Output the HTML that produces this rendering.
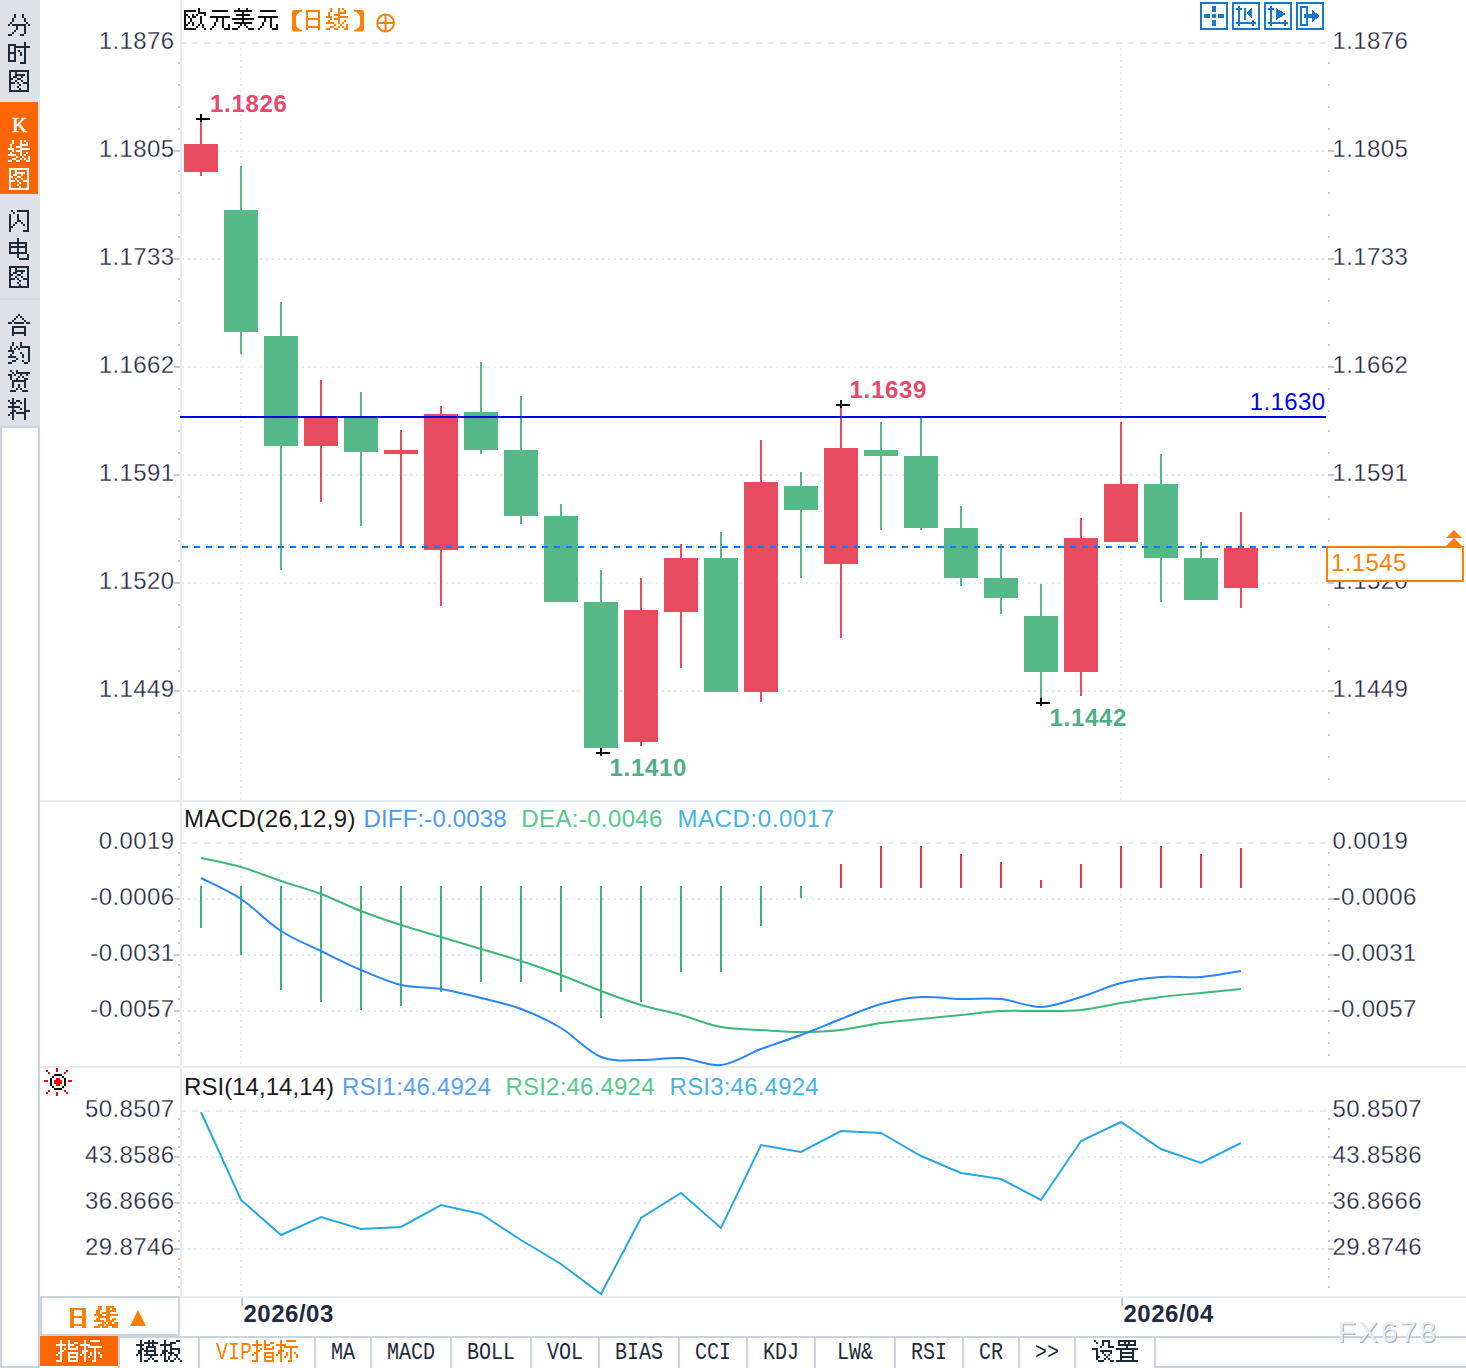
<!DOCTYPE html>
<html><head><meta charset="utf-8"><style>
html,body{margin:0;padding:0;background:#fff;width:1466px;height:1368px;overflow:hidden;position:relative}
text{white-space:pre}
</style></head><body>
<svg width="1466" height="1368" viewBox="0 0 1466 1368" style="position:absolute;left:0;top:0">
<rect x="0" y="0" width="1466" height="1368" fill="#ffffff"/>
<rect x="0" y="0" width="40" height="428" fill="#dfe1e8"/>
<rect x="0" y="102" width="38" height="92" fill="#ff6600"/>
<rect x="0" y="298" width="40" height="2" fill="#cfd4dc"/>
<rect x="0" y="426" width="2" height="942" fill="#cdd3db"/>
<rect x="38" y="426" width="2" height="942" fill="#cdd3db"/>
<rect x="0" y="426" width="40" height="2" fill="#cdd3db"/>
<rect x="0" y="1366" width="40" height="2" fill="#cdd3db"/>
<rect x="38" y="102" width="2" height="92" fill="#d8e3ee"/>
<rect x="0" y="101" width="40" height="1" fill="#d8e3ee"/>
<path fill="#1e2a3a" shape-rendering="crispEdges" d="M14 14h2v2h-2zM22 14h2v2h-2zM14 16h2v2h-2zM22 16h2v2h-2zM12 18h2v2h-2zM24 18h2v2h-2zM12 20h2v2h-2zM24 20h2v2h-2zM10 22h2v2h-2zM26 22h2v2h-2zM8 24h2v2h-2zM12 24h14v2h-14zM28 24h2v2h-2zM16 26h2v2h-2zM24 26h2v2h-2zM16 28h2v2h-2zM24 28h2v2h-2zM14 30h2v2h-2zM24 30h2v2h-2zM12 32h2v2h-2zM24 32h2v2h-2zM8 34h4v2h-4zM20 34h4v2h-4z"/>
<path fill="#1e2a3a" shape-rendering="crispEdges" d="M24 42h2v2h-2zM8 44h8v2h-8zM24 44h2v2h-2zM8 46h2v2h-2zM14 46h16v2h-16zM8 48h2v2h-2zM14 48h2v2h-2zM24 48h2v2h-2zM8 50h2v2h-2zM14 50h2v2h-2zM18 50h2v2h-2zM24 50h2v2h-2zM8 52h8v2h-8zM20 52h2v2h-2zM24 52h2v2h-2zM8 54h2v2h-2zM14 54h2v2h-2zM20 54h2v2h-2zM24 54h2v2h-2zM8 56h2v2h-2zM14 56h2v2h-2zM24 56h2v2h-2zM8 58h2v2h-2zM14 58h2v2h-2zM24 58h2v2h-2zM8 60h8v2h-8zM24 60h2v2h-2zM20 62h6v2h-6z"/>
<path fill="#1e2a3a" shape-rendering="crispEdges" d="M9 70h20v2h-20zM9 72h2v2h-2zM15 72h2v2h-2zM27 72h2v2h-2zM9 74h2v2h-2zM15 74h10v2h-10zM27 74h2v2h-2zM9 76h2v2h-2zM13 76h4v2h-4zM21 76h2v2h-2zM27 76h2v2h-2zM9 78h4v2h-4zM17 78h4v2h-4zM27 78h2v2h-2zM9 80h2v2h-2zM15 80h2v2h-2zM21 80h2v2h-2zM27 80h2v2h-2zM9 82h6v2h-6zM17 82h2v2h-2zM23 82h6v2h-6zM9 84h2v2h-2zM19 84h2v2h-2zM27 84h2v2h-2zM9 86h2v2h-2zM17 86h2v2h-2zM27 86h2v2h-2zM9 88h2v2h-2zM19 88h2v2h-2zM27 88h2v2h-2zM9 90h20v2h-20z"/>
<path fill="#ffffff" shape-rendering="crispEdges" d="M12 140h2v2h-2zM20 140h2v2h-2zM24 140h2v2h-2zM12 142h2v2h-2zM20 142h2v2h-2zM26 142h2v2h-2zM10 144h2v2h-2zM20 144h8v2h-8zM10 146h2v2h-2zM16 146h6v2h-6zM8 148h6v2h-6zM20 148h10v2h-10zM12 150h2v2h-2zM16 150h6v2h-6zM10 152h2v2h-2zM20 152h2v2h-2zM26 152h2v2h-2zM8 154h8v2h-8zM20 154h2v2h-2zM24 154h2v2h-2zM16 156h2v2h-2zM22 156h2v2h-2zM28 156h2v2h-2zM12 158h4v2h-4zM20 158h2v2h-2zM24 158h2v2h-2zM28 158h2v2h-2zM8 160h4v2h-4zM16 160h4v2h-4zM26 160h4v2h-4z"/>
<path fill="#ffffff" shape-rendering="crispEdges" d="M9 168h20v2h-20zM9 170h2v2h-2zM15 170h2v2h-2zM27 170h2v2h-2zM9 172h2v2h-2zM15 172h10v2h-10zM27 172h2v2h-2zM9 174h2v2h-2zM13 174h4v2h-4zM21 174h2v2h-2zM27 174h2v2h-2zM9 176h4v2h-4zM17 176h4v2h-4zM27 176h2v2h-2zM9 178h2v2h-2zM15 178h2v2h-2zM21 178h2v2h-2zM27 178h2v2h-2zM9 180h6v2h-6zM17 180h2v2h-2zM23 180h6v2h-6zM9 182h2v2h-2zM19 182h2v2h-2zM27 182h2v2h-2zM9 184h2v2h-2zM17 184h2v2h-2zM27 184h2v2h-2zM9 186h2v2h-2zM19 186h2v2h-2zM27 186h2v2h-2zM9 188h20v2h-20z"/>
<text x="19.5" y="132" fill="#ffffff" font-size="21" text-anchor="middle" font-weight="normal" font-family='"Liberation Serif", serif' stroke="#ffffff" stroke-width="0.6">K</text>
<path fill="#1e2a3a" shape-rendering="crispEdges" d="M11 210h2v2h-2zM17 210h12v2h-12zM13 212h2v2h-2zM27 212h2v2h-2zM9 214h2v2h-2zM17 214h2v2h-2zM27 214h2v2h-2zM9 216h2v2h-2zM17 216h2v2h-2zM27 216h2v2h-2zM9 218h2v2h-2zM17 218h2v2h-2zM27 218h2v2h-2zM9 220h2v2h-2zM17 220h4v2h-4zM27 220h2v2h-2zM9 222h2v2h-2zM15 222h2v2h-2zM21 222h2v2h-2zM27 222h2v2h-2zM9 224h2v2h-2zM13 224h2v2h-2zM23 224h2v2h-2zM27 224h2v2h-2zM9 226h4v2h-4zM27 226h2v2h-2zM9 228h2v2h-2zM27 228h2v2h-2zM9 230h2v2h-2zM23 230h6v2h-6z"/>
<path fill="#1e2a3a" shape-rendering="crispEdges" d="M17 238h2v2h-2zM17 240h2v2h-2zM9 242h18v2h-18zM9 244h2v2h-2zM17 244h2v2h-2zM25 244h2v2h-2zM9 246h18v2h-18zM9 248h2v2h-2zM17 248h2v2h-2zM25 248h2v2h-2zM9 250h2v2h-2zM17 250h2v2h-2zM25 250h2v2h-2zM9 252h18v2h-18zM17 254h2v2h-2zM27 254h2v2h-2zM17 256h2v2h-2zM27 256h2v2h-2zM19 258h10v2h-10z"/>
<path fill="#1e2a3a" shape-rendering="crispEdges" d="M9 266h20v2h-20zM9 268h2v2h-2zM15 268h2v2h-2zM27 268h2v2h-2zM9 270h2v2h-2zM15 270h10v2h-10zM27 270h2v2h-2zM9 272h2v2h-2zM13 272h4v2h-4zM21 272h2v2h-2zM27 272h2v2h-2zM9 274h4v2h-4zM17 274h4v2h-4zM27 274h2v2h-2zM9 276h2v2h-2zM15 276h2v2h-2zM21 276h2v2h-2zM27 276h2v2h-2zM9 278h6v2h-6zM17 278h2v2h-2zM23 278h6v2h-6zM9 280h2v2h-2zM19 280h2v2h-2zM27 280h2v2h-2zM9 282h2v2h-2zM17 282h2v2h-2zM27 282h2v2h-2zM9 284h2v2h-2zM19 284h2v2h-2zM27 284h2v2h-2zM9 286h20v2h-20z"/>
<path fill="#1e2a3a" shape-rendering="crispEdges" d="M18 314h2v2h-2zM16 316h2v2h-2zM20 316h2v2h-2zM14 318h2v2h-2zM22 318h2v2h-2zM12 320h2v2h-2zM24 320h2v2h-2zM8 322h4v2h-4zM14 322h10v2h-10zM26 322h4v2h-4zM12 326h14v2h-14zM12 328h2v2h-2zM24 328h2v2h-2zM12 330h2v2h-2zM24 330h2v2h-2zM12 332h14v2h-14zM12 334h2v2h-2zM24 334h2v2h-2z"/>
<path fill="#1e2a3a" shape-rendering="crispEdges" d="M12 342h2v2h-2zM20 342h2v2h-2zM12 344h2v2h-2zM20 344h2v2h-2zM10 346h2v2h-2zM16 346h2v2h-2zM20 346h10v2h-10zM10 348h2v2h-2zM14 348h2v2h-2zM18 348h2v2h-2zM28 348h2v2h-2zM8 350h6v2h-6zM28 350h2v2h-2zM12 352h2v2h-2zM20 352h2v2h-2zM28 352h2v2h-2zM10 354h2v2h-2zM22 354h2v2h-2zM28 354h2v2h-2zM8 356h8v2h-8zM22 356h2v2h-2zM28 356h2v2h-2zM16 358h2v2h-2zM28 358h2v2h-2zM12 360h4v2h-4zM22 360h2v2h-2zM28 360h2v2h-2zM8 362h4v2h-4zM24 362h4v2h-4z"/>
<path fill="#1e2a3a" shape-rendering="crispEdges" d="M10 370h2v2h-2zM16 370h2v2h-2zM12 372h2v2h-2zM16 372h14v2h-14zM8 374h4v2h-4zM14 374h2v2h-2zM20 374h2v2h-2zM26 374h2v2h-2zM10 376h2v2h-2zM18 376h2v2h-2zM22 376h2v2h-2zM10 378h2v2h-2zM16 378h2v2h-2zM24 378h4v2h-4zM12 380h14v2h-14zM12 382h2v2h-2zM24 382h2v2h-2zM12 384h2v2h-2zM18 384h2v2h-2zM24 384h2v2h-2zM12 386h2v2h-2zM18 386h2v2h-2zM24 386h2v2h-2zM16 388h2v2h-2zM20 388h2v2h-2zM10 390h6v2h-6zM22 390h6v2h-6z"/>
<path fill="#1e2a3a" shape-rendering="crispEdges" d="M12 398h2v2h-2zM24 398h2v2h-2zM8 400h2v2h-2zM12 400h2v2h-2zM16 400h4v2h-4zM24 400h2v2h-2zM10 402h6v2h-6zM20 402h2v2h-2zM24 402h2v2h-2zM12 404h2v2h-2zM24 404h2v2h-2zM8 406h12v2h-12zM24 406h2v2h-2zM12 408h2v2h-2zM20 408h2v2h-2zM24 408h2v2h-2zM12 410h4v2h-4zM24 410h6v2h-6zM10 412h4v2h-4zM16 412h10v2h-10zM8 414h2v2h-2zM12 414h2v2h-2zM24 414h2v2h-2zM12 416h2v2h-2zM24 416h2v2h-2zM12 418h2v2h-2zM24 418h2v2h-2z"/>
<rect x="40" y="800" width="1426" height="2" fill="#e6ebf0"/>
<rect x="40" y="1066" width="1426" height="2" fill="#e6ebf0"/>
<rect x="40" y="1296" width="140" height="2" fill="#cdd3db"/>
<rect x="180" y="1296" width="1286" height="2" fill="#e8edf2"/>
<rect x="180" y="0" width="2" height="1296" fill="#e8edf2"/>
<line x1="180" y1="43" x2="1326" y2="43" stroke="#e6ebf0" stroke-width="2" stroke-dasharray="6 6"/>
<line x1="182" y1="151" x2="1326" y2="151" stroke="#e6ebf0" stroke-width="2" stroke-dasharray="2 4"/>
<line x1="182" y1="259" x2="1326" y2="259" stroke="#e6ebf0" stroke-width="2" stroke-dasharray="2 4"/>
<line x1="182" y1="367" x2="1326" y2="367" stroke="#e6ebf0" stroke-width="2" stroke-dasharray="2 4"/>
<line x1="182" y1="475" x2="1326" y2="475" stroke="#e6ebf0" stroke-width="2" stroke-dasharray="2 4"/>
<line x1="182" y1="583" x2="1326" y2="583" stroke="#e6ebf0" stroke-width="2" stroke-dasharray="2 4"/>
<line x1="182" y1="691" x2="1326" y2="691" stroke="#e6ebf0" stroke-width="2" stroke-dasharray="2 4"/>
<line x1="180" y1="843" x2="1326" y2="843" stroke="#e6ebf0" stroke-width="2" stroke-dasharray="6 6"/>
<line x1="182" y1="899" x2="1326" y2="899" stroke="#e6ebf0" stroke-width="2" stroke-dasharray="2 4"/>
<line x1="182" y1="955" x2="1326" y2="955" stroke="#e6ebf0" stroke-width="2" stroke-dasharray="2 4"/>
<line x1="182" y1="1011" x2="1326" y2="1011" stroke="#e6ebf0" stroke-width="2" stroke-dasharray="2 4"/>
<line x1="180" y1="1111" x2="1326" y2="1111" stroke="#e6ebf0" stroke-width="2" stroke-dasharray="6 6"/>
<line x1="182" y1="1157" x2="1326" y2="1157" stroke="#e6ebf0" stroke-width="2" stroke-dasharray="2 4"/>
<line x1="182" y1="1203" x2="1326" y2="1203" stroke="#e6ebf0" stroke-width="2" stroke-dasharray="2 4"/>
<line x1="182" y1="1249" x2="1326" y2="1249" stroke="#e6ebf0" stroke-width="2" stroke-dasharray="2 4"/>
<line x1="241" y1="48" x2="241" y2="800" stroke="#e6ebf0" stroke-width="2" stroke-dasharray="2 4"/>
<line x1="241" y1="846" x2="241" y2="1066" stroke="#e6ebf0" stroke-width="2" stroke-dasharray="2 4"/>
<line x1="241" y1="1116" x2="241" y2="1296" stroke="#e6ebf0" stroke-width="2" stroke-dasharray="2 4"/>
<line x1="1121" y1="48" x2="1121" y2="800" stroke="#e6ebf0" stroke-width="2" stroke-dasharray="2 4"/>
<line x1="1121" y1="846" x2="1121" y2="1066" stroke="#e6ebf0" stroke-width="2" stroke-dasharray="2 4"/>
<line x1="1121" y1="1116" x2="1121" y2="1296" stroke="#e6ebf0" stroke-width="2" stroke-dasharray="2 4"/>
<rect x="178" y="62" width="2" height="2" fill="#c3c9d1"/>
<rect x="1328" y="62" width="2" height="2" fill="#c3c9d1"/>
<rect x="178" y="84" width="2" height="2" fill="#c3c9d1"/>
<rect x="1328" y="84" width="2" height="2" fill="#c3c9d1"/>
<rect x="178" y="106" width="2" height="2" fill="#c3c9d1"/>
<rect x="1328" y="106" width="2" height="2" fill="#c3c9d1"/>
<rect x="178" y="128" width="2" height="2" fill="#c3c9d1"/>
<rect x="1328" y="128" width="2" height="2" fill="#c3c9d1"/>
<rect x="178" y="170" width="2" height="2" fill="#c3c9d1"/>
<rect x="1328" y="170" width="2" height="2" fill="#c3c9d1"/>
<rect x="178" y="192" width="2" height="2" fill="#c3c9d1"/>
<rect x="1328" y="192" width="2" height="2" fill="#c3c9d1"/>
<rect x="178" y="214" width="2" height="2" fill="#c3c9d1"/>
<rect x="1328" y="214" width="2" height="2" fill="#c3c9d1"/>
<rect x="178" y="236" width="2" height="2" fill="#c3c9d1"/>
<rect x="1328" y="236" width="2" height="2" fill="#c3c9d1"/>
<rect x="178" y="278" width="2" height="2" fill="#c3c9d1"/>
<rect x="1328" y="278" width="2" height="2" fill="#c3c9d1"/>
<rect x="178" y="300" width="2" height="2" fill="#c3c9d1"/>
<rect x="1328" y="300" width="2" height="2" fill="#c3c9d1"/>
<rect x="178" y="322" width="2" height="2" fill="#c3c9d1"/>
<rect x="1328" y="322" width="2" height="2" fill="#c3c9d1"/>
<rect x="178" y="344" width="2" height="2" fill="#c3c9d1"/>
<rect x="1328" y="344" width="2" height="2" fill="#c3c9d1"/>
<rect x="178" y="388" width="2" height="2" fill="#c3c9d1"/>
<rect x="1328" y="388" width="2" height="2" fill="#c3c9d1"/>
<rect x="178" y="410" width="2" height="2" fill="#c3c9d1"/>
<rect x="1328" y="410" width="2" height="2" fill="#c3c9d1"/>
<rect x="178" y="430" width="2" height="2" fill="#c3c9d1"/>
<rect x="1328" y="430" width="2" height="2" fill="#c3c9d1"/>
<rect x="178" y="452" width="2" height="2" fill="#c3c9d1"/>
<rect x="1328" y="452" width="2" height="2" fill="#c3c9d1"/>
<rect x="178" y="496" width="2" height="2" fill="#c3c9d1"/>
<rect x="1328" y="496" width="2" height="2" fill="#c3c9d1"/>
<rect x="178" y="518" width="2" height="2" fill="#c3c9d1"/>
<rect x="1328" y="518" width="2" height="2" fill="#c3c9d1"/>
<rect x="178" y="540" width="2" height="2" fill="#c3c9d1"/>
<rect x="1328" y="540" width="2" height="2" fill="#c3c9d1"/>
<rect x="178" y="560" width="2" height="2" fill="#c3c9d1"/>
<rect x="1328" y="560" width="2" height="2" fill="#c3c9d1"/>
<rect x="178" y="604" width="2" height="2" fill="#c3c9d1"/>
<rect x="1328" y="604" width="2" height="2" fill="#c3c9d1"/>
<rect x="178" y="626" width="2" height="2" fill="#c3c9d1"/>
<rect x="1328" y="626" width="2" height="2" fill="#c3c9d1"/>
<rect x="178" y="648" width="2" height="2" fill="#c3c9d1"/>
<rect x="1328" y="648" width="2" height="2" fill="#c3c9d1"/>
<rect x="178" y="670" width="2" height="2" fill="#c3c9d1"/>
<rect x="1328" y="670" width="2" height="2" fill="#c3c9d1"/>
<rect x="178" y="712" width="2" height="2" fill="#c3c9d1"/>
<rect x="1328" y="712" width="2" height="2" fill="#c3c9d1"/>
<rect x="178" y="734" width="2" height="2" fill="#c3c9d1"/>
<rect x="1328" y="734" width="2" height="2" fill="#c3c9d1"/>
<rect x="178" y="756" width="2" height="2" fill="#c3c9d1"/>
<rect x="1328" y="756" width="2" height="2" fill="#c3c9d1"/>
<rect x="178" y="778" width="2" height="2" fill="#c3c9d1"/>
<rect x="1328" y="778" width="2" height="2" fill="#c3c9d1"/>
<rect x="178" y="852" width="2" height="2" fill="#c3c9d1"/>
<rect x="1328" y="852" width="2" height="2" fill="#c3c9d1"/>
<rect x="178" y="864" width="2" height="2" fill="#c3c9d1"/>
<rect x="1328" y="864" width="2" height="2" fill="#c3c9d1"/>
<rect x="178" y="874" width="2" height="2" fill="#c3c9d1"/>
<rect x="1328" y="874" width="2" height="2" fill="#c3c9d1"/>
<rect x="178" y="886" width="2" height="2" fill="#c3c9d1"/>
<rect x="1328" y="886" width="2" height="2" fill="#c3c9d1"/>
<rect x="178" y="908" width="2" height="2" fill="#c3c9d1"/>
<rect x="1328" y="908" width="2" height="2" fill="#c3c9d1"/>
<rect x="178" y="920" width="2" height="2" fill="#c3c9d1"/>
<rect x="1328" y="920" width="2" height="2" fill="#c3c9d1"/>
<rect x="178" y="930" width="2" height="2" fill="#c3c9d1"/>
<rect x="1328" y="930" width="2" height="2" fill="#c3c9d1"/>
<rect x="178" y="942" width="2" height="2" fill="#c3c9d1"/>
<rect x="1328" y="942" width="2" height="2" fill="#c3c9d1"/>
<rect x="178" y="964" width="2" height="2" fill="#c3c9d1"/>
<rect x="1328" y="964" width="2" height="2" fill="#c3c9d1"/>
<rect x="178" y="976" width="2" height="2" fill="#c3c9d1"/>
<rect x="1328" y="976" width="2" height="2" fill="#c3c9d1"/>
<rect x="178" y="986" width="2" height="2" fill="#c3c9d1"/>
<rect x="1328" y="986" width="2" height="2" fill="#c3c9d1"/>
<rect x="178" y="998" width="2" height="2" fill="#c3c9d1"/>
<rect x="1328" y="998" width="2" height="2" fill="#c3c9d1"/>
<rect x="178" y="1020" width="2" height="2" fill="#c3c9d1"/>
<rect x="1328" y="1020" width="2" height="2" fill="#c3c9d1"/>
<rect x="178" y="1032" width="2" height="2" fill="#c3c9d1"/>
<rect x="1328" y="1032" width="2" height="2" fill="#c3c9d1"/>
<rect x="178" y="1042" width="2" height="2" fill="#c3c9d1"/>
<rect x="1328" y="1042" width="2" height="2" fill="#c3c9d1"/>
<rect x="178" y="1054" width="2" height="2" fill="#c3c9d1"/>
<rect x="1328" y="1054" width="2" height="2" fill="#c3c9d1"/>
<rect x="178" y="1118" width="2" height="2" fill="#c3c9d1"/>
<rect x="1328" y="1118" width="2" height="2" fill="#c3c9d1"/>
<rect x="178" y="1128" width="2" height="2" fill="#c3c9d1"/>
<rect x="1328" y="1128" width="2" height="2" fill="#c3c9d1"/>
<rect x="178" y="1136" width="2" height="2" fill="#c3c9d1"/>
<rect x="1328" y="1136" width="2" height="2" fill="#c3c9d1"/>
<rect x="178" y="1146" width="2" height="2" fill="#c3c9d1"/>
<rect x="1328" y="1146" width="2" height="2" fill="#c3c9d1"/>
<rect x="178" y="1164" width="2" height="2" fill="#c3c9d1"/>
<rect x="1328" y="1164" width="2" height="2" fill="#c3c9d1"/>
<rect x="178" y="1174" width="2" height="2" fill="#c3c9d1"/>
<rect x="1328" y="1174" width="2" height="2" fill="#c3c9d1"/>
<rect x="178" y="1184" width="2" height="2" fill="#c3c9d1"/>
<rect x="1328" y="1184" width="2" height="2" fill="#c3c9d1"/>
<rect x="178" y="1192" width="2" height="2" fill="#c3c9d1"/>
<rect x="1328" y="1192" width="2" height="2" fill="#c3c9d1"/>
<rect x="178" y="1212" width="2" height="2" fill="#c3c9d1"/>
<rect x="1328" y="1212" width="2" height="2" fill="#c3c9d1"/>
<rect x="178" y="1220" width="2" height="2" fill="#c3c9d1"/>
<rect x="1328" y="1220" width="2" height="2" fill="#c3c9d1"/>
<rect x="178" y="1230" width="2" height="2" fill="#c3c9d1"/>
<rect x="1328" y="1230" width="2" height="2" fill="#c3c9d1"/>
<rect x="178" y="1240" width="2" height="2" fill="#c3c9d1"/>
<rect x="1328" y="1240" width="2" height="2" fill="#c3c9d1"/>
<rect x="178" y="1258" width="2" height="2" fill="#c3c9d1"/>
<rect x="1328" y="1258" width="2" height="2" fill="#c3c9d1"/>
<rect x="178" y="1268" width="2" height="2" fill="#c3c9d1"/>
<rect x="1328" y="1268" width="2" height="2" fill="#c3c9d1"/>
<rect x="178" y="1276" width="2" height="2" fill="#c3c9d1"/>
<rect x="1328" y="1276" width="2" height="2" fill="#c3c9d1"/>
<rect x="178" y="1286" width="2" height="2" fill="#c3c9d1"/>
<rect x="1328" y="1286" width="2" height="2" fill="#c3c9d1"/>
<rect x="174" y="150" width="6" height="2" fill="#c3c9d1"/>
<rect x="1328" y="150" width="6" height="2" fill="#c3c9d1"/>
<rect x="174" y="258" width="6" height="2" fill="#c3c9d1"/>
<rect x="1328" y="258" width="6" height="2" fill="#c3c9d1"/>
<rect x="174" y="366" width="6" height="2" fill="#c3c9d1"/>
<rect x="1328" y="366" width="6" height="2" fill="#c3c9d1"/>
<rect x="174" y="474" width="6" height="2" fill="#c3c9d1"/>
<rect x="1328" y="474" width="6" height="2" fill="#c3c9d1"/>
<rect x="174" y="582" width="6" height="2" fill="#c3c9d1"/>
<rect x="1328" y="582" width="6" height="2" fill="#c3c9d1"/>
<rect x="174" y="690" width="6" height="2" fill="#c3c9d1"/>
<rect x="1328" y="690" width="6" height="2" fill="#c3c9d1"/>
<rect x="174" y="898" width="6" height="2" fill="#c3c9d1"/>
<rect x="1328" y="898" width="6" height="2" fill="#c3c9d1"/>
<rect x="174" y="954" width="6" height="2" fill="#c3c9d1"/>
<rect x="1328" y="954" width="6" height="2" fill="#c3c9d1"/>
<rect x="174" y="1010" width="6" height="2" fill="#c3c9d1"/>
<rect x="1328" y="1010" width="6" height="2" fill="#c3c9d1"/>
<rect x="174" y="1156" width="6" height="2" fill="#c3c9d1"/>
<rect x="1328" y="1156" width="6" height="2" fill="#c3c9d1"/>
<rect x="174" y="1202" width="6" height="2" fill="#c3c9d1"/>
<rect x="1328" y="1202" width="6" height="2" fill="#c3c9d1"/>
<rect x="174" y="1248" width="6" height="2" fill="#c3c9d1"/>
<rect x="1328" y="1248" width="6" height="2" fill="#c3c9d1"/>
<text x="174.5" y="49" fill="#1c2540" font-size="24" text-anchor="end" font-weight="normal" font-family='"Liberation Sans", sans-serif' letter-spacing="0.4" stroke="#ffffff" stroke-width="0.3">1.1876</text>
<text x="1332.5" y="49" fill="#1c2540" font-size="24" text-anchor="start" font-weight="normal" font-family='"Liberation Sans", sans-serif' letter-spacing="0.4" stroke="#ffffff" stroke-width="0.3">1.1876</text>
<text x="174.5" y="157" fill="#1c2540" font-size="24" text-anchor="end" font-weight="normal" font-family='"Liberation Sans", sans-serif' letter-spacing="0.4" stroke="#ffffff" stroke-width="0.3">1.1805</text>
<text x="1332.5" y="157" fill="#1c2540" font-size="24" text-anchor="start" font-weight="normal" font-family='"Liberation Sans", sans-serif' letter-spacing="0.4" stroke="#ffffff" stroke-width="0.3">1.1805</text>
<text x="174.5" y="265" fill="#1c2540" font-size="24" text-anchor="end" font-weight="normal" font-family='"Liberation Sans", sans-serif' letter-spacing="0.4" stroke="#ffffff" stroke-width="0.3">1.1733</text>
<text x="1332.5" y="265" fill="#1c2540" font-size="24" text-anchor="start" font-weight="normal" font-family='"Liberation Sans", sans-serif' letter-spacing="0.4" stroke="#ffffff" stroke-width="0.3">1.1733</text>
<text x="174.5" y="373" fill="#1c2540" font-size="24" text-anchor="end" font-weight="normal" font-family='"Liberation Sans", sans-serif' letter-spacing="0.4" stroke="#ffffff" stroke-width="0.3">1.1662</text>
<text x="1332.5" y="373" fill="#1c2540" font-size="24" text-anchor="start" font-weight="normal" font-family='"Liberation Sans", sans-serif' letter-spacing="0.4" stroke="#ffffff" stroke-width="0.3">1.1662</text>
<text x="174.5" y="481" fill="#1c2540" font-size="24" text-anchor="end" font-weight="normal" font-family='"Liberation Sans", sans-serif' letter-spacing="0.4" stroke="#ffffff" stroke-width="0.3">1.1591</text>
<text x="1332.5" y="481" fill="#1c2540" font-size="24" text-anchor="start" font-weight="normal" font-family='"Liberation Sans", sans-serif' letter-spacing="0.4" stroke="#ffffff" stroke-width="0.3">1.1591</text>
<text x="174.5" y="589" fill="#1c2540" font-size="24" text-anchor="end" font-weight="normal" font-family='"Liberation Sans", sans-serif' letter-spacing="0.4" stroke="#ffffff" stroke-width="0.3">1.1520</text>
<text x="1332.5" y="589" fill="#1c2540" font-size="24" text-anchor="start" font-weight="normal" font-family='"Liberation Sans", sans-serif' letter-spacing="0.4" stroke="#ffffff" stroke-width="0.3">1.1520</text>
<text x="174.5" y="697" fill="#1c2540" font-size="24" text-anchor="end" font-weight="normal" font-family='"Liberation Sans", sans-serif' letter-spacing="0.4" stroke="#ffffff" stroke-width="0.3">1.1449</text>
<text x="1332.5" y="697" fill="#1c2540" font-size="24" text-anchor="start" font-weight="normal" font-family='"Liberation Sans", sans-serif' letter-spacing="0.4" stroke="#ffffff" stroke-width="0.3">1.1449</text>
<text x="174.5" y="849" fill="#1c2540" font-size="24" text-anchor="end" font-weight="normal" font-family='"Liberation Sans", sans-serif' letter-spacing="0.4" stroke="#ffffff" stroke-width="0.3">0.0019</text>
<text x="1332.5" y="849" fill="#1c2540" font-size="24" text-anchor="start" font-weight="normal" font-family='"Liberation Sans", sans-serif' letter-spacing="0.4" stroke="#ffffff" stroke-width="0.3">0.0019</text>
<text x="174.5" y="905" fill="#1c2540" font-size="24" text-anchor="end" font-weight="normal" font-family='"Liberation Sans", sans-serif' letter-spacing="0.4" stroke="#ffffff" stroke-width="0.3">-0.0006</text>
<text x="1332.5" y="905" fill="#1c2540" font-size="24" text-anchor="start" font-weight="normal" font-family='"Liberation Sans", sans-serif' letter-spacing="0.4" stroke="#ffffff" stroke-width="0.3">-0.0006</text>
<text x="174.5" y="961" fill="#1c2540" font-size="24" text-anchor="end" font-weight="normal" font-family='"Liberation Sans", sans-serif' letter-spacing="0.4" stroke="#ffffff" stroke-width="0.3">-0.0031</text>
<text x="1332.5" y="961" fill="#1c2540" font-size="24" text-anchor="start" font-weight="normal" font-family='"Liberation Sans", sans-serif' letter-spacing="0.4" stroke="#ffffff" stroke-width="0.3">-0.0031</text>
<text x="174.5" y="1017" fill="#1c2540" font-size="24" text-anchor="end" font-weight="normal" font-family='"Liberation Sans", sans-serif' letter-spacing="0.4" stroke="#ffffff" stroke-width="0.3">-0.0057</text>
<text x="1332.5" y="1017" fill="#1c2540" font-size="24" text-anchor="start" font-weight="normal" font-family='"Liberation Sans", sans-serif' letter-spacing="0.4" stroke="#ffffff" stroke-width="0.3">-0.0057</text>
<text x="174.5" y="1117" fill="#1c2540" font-size="24" text-anchor="end" font-weight="normal" font-family='"Liberation Sans", sans-serif' letter-spacing="0.4" stroke="#ffffff" stroke-width="0.3">50.8507</text>
<text x="1332.5" y="1117" fill="#1c2540" font-size="24" text-anchor="start" font-weight="normal" font-family='"Liberation Sans", sans-serif' letter-spacing="0.4" stroke="#ffffff" stroke-width="0.3">50.8507</text>
<text x="174.5" y="1163" fill="#1c2540" font-size="24" text-anchor="end" font-weight="normal" font-family='"Liberation Sans", sans-serif' letter-spacing="0.4" stroke="#ffffff" stroke-width="0.3">43.8586</text>
<text x="1332.5" y="1163" fill="#1c2540" font-size="24" text-anchor="start" font-weight="normal" font-family='"Liberation Sans", sans-serif' letter-spacing="0.4" stroke="#ffffff" stroke-width="0.3">43.8586</text>
<text x="174.5" y="1209" fill="#1c2540" font-size="24" text-anchor="end" font-weight="normal" font-family='"Liberation Sans", sans-serif' letter-spacing="0.4" stroke="#ffffff" stroke-width="0.3">36.8666</text>
<text x="1332.5" y="1209" fill="#1c2540" font-size="24" text-anchor="start" font-weight="normal" font-family='"Liberation Sans", sans-serif' letter-spacing="0.4" stroke="#ffffff" stroke-width="0.3">36.8666</text>
<text x="174.5" y="1255" fill="#1c2540" font-size="24" text-anchor="end" font-weight="normal" font-family='"Liberation Sans", sans-serif' letter-spacing="0.4" stroke="#ffffff" stroke-width="0.3">29.8746</text>
<text x="1332.5" y="1255" fill="#1c2540" font-size="24" text-anchor="start" font-weight="normal" font-family='"Liberation Sans", sans-serif' letter-spacing="0.4" stroke="#ffffff" stroke-width="0.3">29.8746</text>
<g shape-rendering="crispEdges">
<rect x="200" y="122" width="2" height="54" fill="#e94b5e"/>
<rect x="184" y="144" width="34" height="28" fill="#e94b5e"/>
<rect x="240" y="166" width="2" height="188" fill="#54b887"/>
<rect x="224" y="210" width="34" height="122" fill="#54b887"/>
<rect x="280" y="302" width="2" height="268" fill="#54b887"/>
<rect x="264" y="336" width="34" height="110" fill="#54b887"/>
<rect x="320" y="380" width="2" height="122" fill="#e94b5e"/>
<rect x="304" y="418" width="34" height="28" fill="#e94b5e"/>
<rect x="360" y="392" width="2" height="134" fill="#54b887"/>
<rect x="344" y="418" width="34" height="34" fill="#54b887"/>
<rect x="400" y="430" width="2" height="117" fill="#e94b5e"/>
<rect x="384" y="450" width="34" height="4" fill="#e94b5e"/>
<rect x="440" y="406" width="2" height="200" fill="#e94b5e"/>
<rect x="424" y="414" width="34" height="136" fill="#e94b5e"/>
<rect x="480" y="362" width="2" height="92" fill="#54b887"/>
<rect x="464" y="412" width="34" height="38" fill="#54b887"/>
<rect x="520" y="396" width="2" height="128" fill="#54b887"/>
<rect x="504" y="450" width="34" height="66" fill="#54b887"/>
<rect x="560" y="504" width="2" height="98" fill="#54b887"/>
<rect x="544" y="516" width="34" height="86" fill="#54b887"/>
<rect x="600" y="570" width="2" height="178" fill="#54b887"/>
<rect x="584" y="602" width="34" height="146" fill="#54b887"/>
<rect x="640" y="578" width="2" height="168" fill="#e94b5e"/>
<rect x="624" y="610" width="34" height="132" fill="#e94b5e"/>
<rect x="680" y="544" width="2" height="124" fill="#e94b5e"/>
<rect x="664" y="558" width="34" height="54" fill="#e94b5e"/>
<rect x="720" y="532" width="2" height="160" fill="#54b887"/>
<rect x="704" y="558" width="34" height="134" fill="#54b887"/>
<rect x="760" y="440" width="2" height="262" fill="#e94b5e"/>
<rect x="744" y="482" width="34" height="210" fill="#e94b5e"/>
<rect x="800" y="472" width="2" height="106" fill="#54b887"/>
<rect x="784" y="486" width="34" height="24" fill="#54b887"/>
<rect x="840" y="406" width="2" height="232" fill="#e94b5e"/>
<rect x="824" y="448" width="34" height="116" fill="#e94b5e"/>
<rect x="880" y="422" width="2" height="108" fill="#54b887"/>
<rect x="864" y="450" width="34" height="6" fill="#54b887"/>
<rect x="920" y="417" width="2" height="113" fill="#54b887"/>
<rect x="904" y="456" width="34" height="72" fill="#54b887"/>
<rect x="960" y="506" width="2" height="80" fill="#54b887"/>
<rect x="944" y="528" width="34" height="50" fill="#54b887"/>
<rect x="1000" y="544" width="2" height="70" fill="#54b887"/>
<rect x="984" y="578" width="34" height="20" fill="#54b887"/>
<rect x="1040" y="584" width="2" height="115" fill="#54b887"/>
<rect x="1024" y="616" width="34" height="56" fill="#54b887"/>
<rect x="1080" y="518" width="2" height="178" fill="#e94b5e"/>
<rect x="1064" y="538" width="34" height="134" fill="#e94b5e"/>
<rect x="1120" y="422" width="2" height="120" fill="#e94b5e"/>
<rect x="1104" y="484" width="34" height="58" fill="#e94b5e"/>
<rect x="1160" y="454" width="2" height="148" fill="#54b887"/>
<rect x="1144" y="484" width="34" height="74" fill="#54b887"/>
<rect x="1200" y="542" width="2" height="58" fill="#54b887"/>
<rect x="1184" y="558" width="34" height="42" fill="#54b887"/>
<rect x="1240" y="512" width="2" height="96" fill="#e94b5e"/>
<rect x="1224" y="548" width="34" height="40" fill="#e94b5e"/>
</g>
<rect x="180" y="416" width="1146" height="2" fill="#0000f0"/>
<line x1="182" y1="547" x2="1326" y2="547" stroke="#0a7ff5" stroke-width="2" stroke-dasharray="6 6"/>
<rect x="196" y="118" width="14" height="2" fill="#000000"/>
<rect x="200" y="114" width="2" height="8" fill="#000000"/>
<rect x="596" y="752" width="14" height="2" fill="#000000"/>
<rect x="600" y="748" width="2" height="8" fill="#000000"/>
<rect x="836" y="404" width="14" height="2" fill="#000000"/>
<rect x="840" y="400" width="2" height="8" fill="#000000"/>
<rect x="1036" y="702" width="14" height="2" fill="#000000"/>
<rect x="1040" y="698" width="2" height="8" fill="#000000"/>
<text x="210" y="112" fill="#e8486c" font-size="24" text-anchor="start" font-weight="bold" font-family='"Liberation Sans", sans-serif' letter-spacing="0.7">1.1826</text>
<text x="849.5" y="397.7" fill="#e8486c" font-size="24" text-anchor="start" font-weight="bold" font-family='"Liberation Sans", sans-serif' letter-spacing="0.7">1.1639</text>
<text x="609.5" y="775.8" fill="#4fae86" font-size="24" text-anchor="start" font-weight="bold" font-family='"Liberation Sans", sans-serif' letter-spacing="0.7">1.1410</text>
<text x="1049.5" y="725.6" fill="#4fae86" font-size="24" text-anchor="start" font-weight="bold" font-family='"Liberation Sans", sans-serif' letter-spacing="0.7">1.1442</text>
<text x="1325.5" y="409.8" fill="#0000ff" font-size="24" text-anchor="end" font-weight="normal" font-family='"Liberation Sans", sans-serif' letter-spacing="0.4">1.1630</text>
<rect x="1326" y="546" width="138" height="36" fill="#ff7f00"/>
<rect x="1328" y="548" width="134" height="32" fill="#ffffff"/>
<text x="1331" y="571.4" fill="#ff7f00" font-size="24" text-anchor="start" font-weight="normal" font-family='"Liberation Sans", sans-serif' letter-spacing="0.4">1.1545</text>
<path d="M1454 530 L1462 538 L1446 538 Z M1454 538 L1462 546 L1446 546 Z" fill="#ff7f00"/>
<g shape-rendering="crispEdges">
<rect x="200" y="886" width="2" height="42" fill="#3db37a"/>
<rect x="240" y="886" width="2" height="69" fill="#3db37a"/>
<rect x="280" y="886" width="2" height="104" fill="#3db37a"/>
<rect x="320" y="886" width="2" height="116" fill="#3db37a"/>
<rect x="360" y="886" width="2" height="124" fill="#3db37a"/>
<rect x="400" y="886" width="2" height="120" fill="#3db37a"/>
<rect x="440" y="886" width="2" height="106" fill="#3db37a"/>
<rect x="480" y="886" width="2" height="96" fill="#3db37a"/>
<rect x="520" y="886" width="2" height="96" fill="#3db37a"/>
<rect x="560" y="886" width="2" height="106" fill="#3db37a"/>
<rect x="600" y="886" width="2" height="132" fill="#3db37a"/>
<rect x="640" y="886" width="2" height="116" fill="#3db37a"/>
<rect x="680" y="886" width="2" height="86" fill="#3db37a"/>
<rect x="720" y="886" width="2" height="86" fill="#3db37a"/>
<rect x="760" y="886" width="2" height="40" fill="#3db37a"/>
<rect x="800" y="886" width="2" height="12" fill="#3db37a"/>
<rect x="840" y="864" width="2" height="24" fill="#e8394f"/>
<rect x="880" y="846" width="2" height="42" fill="#e8394f"/>
<rect x="920" y="846" width="2" height="42" fill="#e8394f"/>
<rect x="960" y="854" width="2" height="34" fill="#e8394f"/>
<rect x="1000" y="862" width="2" height="26" fill="#e8394f"/>
<rect x="1040" y="880" width="2" height="8" fill="#e8394f"/>
<rect x="1080" y="864" width="2" height="24" fill="#e8394f"/>
<rect x="1120" y="846" width="2" height="42" fill="#e8394f"/>
<rect x="1160" y="846" width="2" height="42" fill="#e8394f"/>
<rect x="1200" y="854" width="2" height="34" fill="#e8394f"/>
<rect x="1240" y="848" width="2" height="40" fill="#e8394f"/>
</g>
<path d="M201 858 C207.7 859.5 227.7 863.2 241 867 C254.3 870.8 267.7 876.5 281 881 C294.3 885.5 307.7 889.0 321 894 C334.3 899.0 347.7 905.8 361 911 C374.3 916.2 387.7 920.7 401 925 C414.3 929.3 427.7 933.0 441 937 C454.3 941.0 467.7 945.0 481 949 C494.3 953.0 507.7 956.7 521 961 C534.3 965.3 547.7 970.0 561 975 C574.3 980.0 587.7 986.0 601 991 C614.3 996.0 627.7 1001.0 641 1005 C654.3 1009.0 667.7 1011.3 681 1015 C694.3 1018.7 707.7 1024.5 721 1027 C734.3 1029.5 747.7 1029.2 761 1030 C774.3 1030.8 787.7 1032.0 801 1032 C814.3 1032.0 827.7 1031.5 841 1030 C854.3 1028.5 867.7 1024.8 881 1023 C894.3 1021.2 907.7 1020.3 921 1019 C934.3 1017.7 947.7 1016.3 961 1015 C974.3 1013.7 987.7 1011.7 1001 1011 C1014.3 1010.3 1027.7 1011.2 1041 1011 C1054.3 1010.8 1067.7 1011.3 1081 1010 C1094.3 1008.7 1107.7 1005.2 1121 1003 C1134.3 1000.8 1147.7 998.7 1161 997 C1174.3 995.3 1187.7 994.3 1201 993 C1214.3 991.7 1234.3 989.7 1241 989" fill="none" stroke="#3cb878" stroke-width="2"/>
<path d="M201 878 C207.7 881.5 227.7 890.2 241 899 C254.3 907.8 267.7 922.3 281 931 C294.3 939.7 307.7 944.5 321 951 C334.3 957.5 347.7 964.3 361 970 C374.3 975.7 387.7 981.8 401 985 C414.3 988.2 427.7 986.8 441 989 C454.3 991.2 467.7 994.7 481 998 C494.3 1001.3 507.7 1004.0 521 1009 C534.3 1014.0 547.7 1020.0 561 1028 C574.3 1036.0 587.7 1051.7 601 1057 C614.3 1062.3 627.7 1059.8 641 1060 C654.3 1060.2 667.7 1057.2 681 1058 C694.3 1058.8 707.7 1066.5 721 1065 C734.3 1063.5 747.7 1054.0 761 1049 C774.3 1044.0 787.7 1040.0 801 1035 C814.3 1030.0 827.7 1024.2 841 1019 C854.3 1013.8 867.7 1007.7 881 1004 C894.3 1000.3 907.7 997.8 921 997 C934.3 996.2 947.7 998.7 961 999 C974.3 999.3 987.7 997.7 1001 999 C1014.3 1000.3 1027.7 1007.3 1041 1007 C1054.3 1006.7 1067.7 1001.0 1081 997 C1094.3 993.0 1107.7 986.3 1121 983 C1134.3 979.7 1147.7 978.0 1161 977 C1174.3 976.0 1187.7 978.0 1201 977 C1214.3 976.0 1234.3 972.0 1241 971" fill="none" stroke="#2a86f5" stroke-width="2"/>
<polyline points="201,1112 241,1200 281,1235 321,1217 361,1229 401,1227 441,1205 481,1214 521,1240 561,1264 601,1294 641,1218 681,1193 721,1228 761,1145 801,1152 841,1131 881,1133 921,1156 961,1173 1001,1179 1041,1200 1081,1141 1121,1122 1161,1149 1201,1163 1241,1143" fill="none" stroke="#26a8e0" stroke-width="2"/>
<path fill="#111111" shape-rendering="crispEdges" d="M198 8h2v2h-2zM238 8h2v2h-2zM246 8h2v2h-2zM184 10h12v2h-12zM198 10h2v2h-2zM212 10h16v2h-16zM234 10h18v2h-18zM260 10h16v2h-16zM184 12h2v2h-2zM198 12h8v2h-8zM242 12h2v2h-2zM184 14h4v2h-4zM192 14h2v2h-2zM196 14h2v2h-2zM204 14h2v2h-2zM236 14h14v2h-14zM184 16h2v2h-2zM188 16h2v2h-2zM192 16h4v2h-4zM200 16h2v2h-2zM210 16h20v2h-20zM242 16h2v2h-2zM258 16h20v2h-20zM184 18h2v2h-2zM190 18h2v2h-2zM200 18h2v2h-2zM216 18h2v2h-2zM222 18h2v2h-2zM232 18h22v2h-22zM264 18h2v2h-2zM270 18h2v2h-2zM184 20h2v2h-2zM190 20h2v2h-2zM200 20h2v2h-2zM216 20h2v2h-2zM222 20h2v2h-2zM242 20h2v2h-2zM264 20h2v2h-2zM270 20h2v2h-2zM184 22h2v2h-2zM188 22h2v2h-2zM192 22h2v2h-2zM200 22h2v2h-2zM214 22h2v2h-2zM222 22h2v2h-2zM234 22h18v2h-18zM262 22h2v2h-2zM270 22h2v2h-2zM184 24h4v2h-4zM192 24h2v2h-2zM198 24h2v2h-2zM202 24h2v2h-2zM214 24h2v2h-2zM222 24h2v2h-2zM228 24h2v2h-2zM240 24h2v2h-2zM244 24h2v2h-2zM262 24h2v2h-2zM270 24h2v2h-2zM276 24h2v2h-2zM184 26h2v2h-2zM196 26h2v2h-2zM202 26h2v2h-2zM212 26h2v2h-2zM222 26h2v2h-2zM228 26h2v2h-2zM238 26h2v2h-2zM246 26h2v2h-2zM260 26h2v2h-2zM270 26h2v2h-2zM276 26h2v2h-2zM184 28h12v2h-12zM204 28h2v2h-2zM210 28h2v2h-2zM224 28h6v2h-6zM232 28h6v2h-6zM248 28h6v2h-6zM258 28h2v2h-2zM272 28h6v2h-6z"/>
<path fill="#ff7f00" shape-rendering="crispEdges" d="M330 8h2v2h-2zM338 8h2v2h-2zM342 8h2v2h-2zM306 10h14v2h-14zM330 10h2v2h-2zM338 10h2v2h-2zM344 10h2v2h-2zM306 12h2v2h-2zM318 12h2v2h-2zM328 12h2v2h-2zM338 12h8v2h-8zM306 14h2v2h-2zM318 14h2v2h-2zM328 14h2v2h-2zM334 14h6v2h-6zM306 16h2v2h-2zM318 16h2v2h-2zM326 16h6v2h-6zM338 16h10v2h-10zM306 18h14v2h-14zM330 18h2v2h-2zM334 18h6v2h-6zM306 20h2v2h-2zM318 20h2v2h-2zM328 20h2v2h-2zM338 20h2v2h-2zM344 20h2v2h-2zM306 22h2v2h-2zM318 22h2v2h-2zM326 22h8v2h-8zM338 22h2v2h-2zM342 22h2v2h-2zM306 24h2v2h-2zM318 24h2v2h-2zM334 24h2v2h-2zM340 24h2v2h-2zM346 24h2v2h-2zM306 26h14v2h-14zM330 26h4v2h-4zM338 26h2v2h-2zM342 26h2v2h-2zM346 26h2v2h-2zM306 28h2v2h-2zM318 28h2v2h-2zM326 28h4v2h-4zM334 28h4v2h-4zM344 28h4v2h-4z"/>
<path d="M302 10 L294.5 10 Q292 10 292 12.5 L292 29 Q292 31.5 294.5 31.5 L302 31.5 L302 30 Q297 29 296 25 L296 17 Q297 12 302 11.5 Z" fill="#ff7f00"/>
<path d="M354 10 L361.5 10 Q364 10 364 12.5 L364 29 Q364 31.5 361.5 31.5 L354 31.5 L354 30 Q359 29 360 25 L360 17 Q359 12 354 11.5 Z" fill="#ff7f00"/>
<g fill="none" stroke="#ff7f00" stroke-width="2"><circle cx="385.6" cy="23" r="8.4"/><line x1="377" y1="23" x2="394" y2="23"/><line x1="385.6" y1="14.5" x2="385.6" y2="31.5"/></g>
<text x="184" y="827" fill="#1a1a1a" font-size="24" text-anchor="start" font-weight="normal" font-family='"Liberation Sans", sans-serif' letter-spacing="0.4">MACD(26,12,9)</text>
<text x="363.5" y="827" fill="#4a9af5" font-size="24" text-anchor="start" font-weight="normal" font-family='"Liberation Sans", sans-serif' letter-spacing="0.16">DIFF:-0.0038</text>
<text x="521.3" y="827" fill="#55c98b" font-size="24" text-anchor="start" font-weight="normal" font-family='"Liberation Sans", sans-serif' letter-spacing="0.37">DEA:-0.0046</text>
<text x="677.4" y="827" fill="#45b3e6" font-size="24" text-anchor="start" font-weight="normal" font-family='"Liberation Sans", sans-serif' letter-spacing="0.6">MACD:0.0017</text>
<text x="184" y="1095" fill="#1a1a1a" font-size="24" text-anchor="start" font-weight="normal" font-family='"Liberation Sans", sans-serif' letter-spacing="0.05">RSI(14,14,14)</text>
<text x="342" y="1095" fill="#55a0f5" font-size="24" text-anchor="start" font-weight="normal" font-family='"Liberation Sans", sans-serif' letter-spacing="0.2">RSI1:46.4924</text>
<text x="505.5" y="1095" fill="#55c98b" font-size="24" text-anchor="start" font-weight="normal" font-family='"Liberation Sans", sans-serif' letter-spacing="0.2">RSI2:46.4924</text>
<text x="669.6" y="1095" fill="#45b3e6" font-size="24" text-anchor="start" font-weight="normal" font-family='"Liberation Sans", sans-serif' letter-spacing="0.2">RSI3:46.4924</text>
<g shape-rendering="crispEdges">
<rect x="54" y="1074" width="8" height="2" fill="#000000"/>
<rect x="52" y="1076" width="2" height="2" fill="#000000"/>
<rect x="62" y="1076" width="2" height="2" fill="#000000"/>
<rect x="50" y="1078" width="2" height="8" fill="#000000"/>
<rect x="64" y="1078" width="2" height="8" fill="#000000"/>
<rect x="52" y="1086" width="2" height="2" fill="#000000"/>
<rect x="62" y="1086" width="2" height="2" fill="#000000"/>
<rect x="54" y="1088" width="8" height="2" fill="#000000"/>
<rect x="56" y="1078" width="4" height="8" fill="#ff0000"/>
<rect x="54" y="1080" width="8" height="4" fill="#ff0000"/>
<rect x="56" y="1068" width="2" height="4" fill="#ff0000"/>
<rect x="56" y="1092" width="2" height="4" fill="#ff0000"/>
<rect x="44" y="1080" width="4" height="2" fill="#ff0000"/>
<rect x="68" y="1080" width="4" height="2" fill="#ff0000"/>
<rect x="46" y="1070" width="2" height="2" fill="#ff0000"/>
<rect x="48" y="1072" width="2" height="2" fill="#ff0000"/>
<rect x="66" y="1070" width="2" height="2" fill="#ff0000"/>
<rect x="64" y="1072" width="2" height="2" fill="#ff0000"/>
<rect x="46" y="1092" width="2" height="2" fill="#ff0000"/>
<rect x="48" y="1090" width="2" height="2" fill="#ff0000"/>
<rect x="66" y="1092" width="2" height="2" fill="#ff0000"/>
<rect x="64" y="1090" width="2" height="2" fill="#ff0000"/>
</g>
<g shape-rendering="crispEdges">
<rect x="1201" y="3" width="26" height="26" fill="none" stroke="#1a78c8" stroke-width="2"/>
<rect x="1233" y="3" width="26" height="26" fill="none" stroke="#1a78c8" stroke-width="2"/>
<rect x="1265" y="3" width="26" height="26" fill="none" stroke="#1a78c8" stroke-width="2"/>
<rect x="1297" y="3" width="26" height="26" fill="none" stroke="#1a78c8" stroke-width="2"/>
<rect x="1212" y="6" width="4" height="6" fill="#1a78c8"/>
<rect x="1212" y="14" width="4" height="4" fill="#1a78c8"/>
<rect x="1212" y="20" width="4" height="6" fill="#1a78c8"/>
<rect x="1204" y="14" width="6" height="4" fill="#1a78c8"/>
<rect x="1218" y="14" width="6" height="4" fill="#1a78c8"/>
<rect x="1238" y="6" width="2" height="20" fill="#1a78c8"/>
<rect x="1236" y="8" width="6" height="2" fill="#1a78c8"/>
<rect x="1236" y="22" width="20" height="2" fill="#1a78c8"/>
<rect x="1252" y="20" width="2" height="6" fill="#1a78c8"/>
<rect x="1270" y="6" width="2" height="20" fill="#1a78c8"/>
<rect x="1268" y="8" width="6" height="2" fill="#1a78c8"/>
<rect x="1268" y="22" width="20" height="2" fill="#1a78c8"/>
<rect x="1284" y="20" width="2" height="6" fill="#1a78c8"/>
<rect x="1244" y="8" width="2" height="12" fill="#1a78c8"/>
<path d="M1246 13 L1252 8 L1252 18 Z" fill="#1a78c8"/>
<path d="M1276 8 L1286 14 L1276 20 Z" fill="#1a78c8"/>
<rect x="1301" y="7" width="6" height="18" fill="none" stroke="#1a78c8" stroke-width="2"/>
<rect x="1304" y="14" width="10" height="4" fill="#1a78c8"/>
<path d="M1312 10 L1320 16 L1312 22 Z" fill="#1a78c8"/>
</g>
<rect x="241" y="1298" width="2" height="8" fill="#c3c9d1"/>
<rect x="1121" y="1298" width="2" height="8" fill="#c3c9d1"/>
<text x="243.5" y="1321.5" fill="#1f2940" font-size="24" text-anchor="start" font-weight="bold" font-family='"Liberation Sans", sans-serif' letter-spacing="0.5">2026/03</text>
<text x="1123.5" y="1321.5" fill="#1f2940" font-size="24" text-anchor="start" font-weight="bold" font-family='"Liberation Sans", sans-serif' letter-spacing="0.5">2026/04</text>
<rect x="40" y="1298" width="2" height="36" fill="#cdd3db"/>
<rect x="178" y="1298" width="2" height="38" fill="#cdd3db"/>
<path fill="#ff7f00" shape-rendering="crispEdges" d="M70 1308h16v2h-16zM70 1310h4v2h-4zM82 1310h4v2h-4zM70 1312h4v2h-4zM82 1312h4v2h-4zM70 1314h4v2h-4zM82 1314h4v2h-4zM70 1316h16v2h-16zM70 1318h4v2h-4zM82 1318h4v2h-4zM70 1320h4v2h-4zM82 1320h4v2h-4zM70 1322h4v2h-4zM82 1322h4v2h-4zM70 1324h16v2h-16zM70 1326h4v2h-4zM82 1326h4v2h-4z"/>
<path fill="#ff7f00" shape-rendering="crispEdges" d="M98 1306h4v2h-4zM106 1306h8v2h-8zM98 1308h4v2h-4zM106 1308h4v2h-4zM112 1308h4v2h-4zM96 1310h4v2h-4zM106 1310h10v2h-10zM96 1312h4v2h-4zM102 1312h8v2h-8zM94 1314h8v2h-8zM106 1314h12v2h-12zM98 1316h12v2h-12zM96 1318h4v2h-4zM106 1318h4v2h-4zM112 1318h4v2h-4zM94 1320h10v2h-10zM106 1320h8v2h-8zM102 1322h4v2h-4zM108 1322h4v2h-4zM114 1322h4v2h-4zM98 1324h6v2h-6zM106 1324h12v2h-12zM94 1326h6v2h-6zM102 1326h6v2h-6zM112 1326h6v2h-6z"/>
<path d="M138 1310 L146 1326 L130 1326 Z" fill="#ff7f00"/>
<rect x="40" y="1334" width="140" height="2" fill="#cdd3db"/>
<rect x="118" y="1336" width="1348" height="2" fill="#cbd3dc"/>
<rect x="40" y="1336" width="78" height="30" fill="#ff6600"/>
<rect x="118" y="1336" width="2" height="32" fill="#cdd3db"/>
<rect x="198" y="1336" width="2" height="32" fill="#cdd3db"/>
<rect x="314" y="1336" width="2" height="32" fill="#cdd3db"/>
<rect x="370" y="1336" width="2" height="32" fill="#cdd3db"/>
<rect x="450" y="1336" width="2" height="32" fill="#cdd3db"/>
<rect x="530" y="1336" width="2" height="32" fill="#cdd3db"/>
<rect x="598" y="1336" width="2" height="32" fill="#cdd3db"/>
<rect x="678" y="1336" width="2" height="32" fill="#cdd3db"/>
<rect x="746" y="1336" width="2" height="32" fill="#cdd3db"/>
<rect x="814" y="1336" width="2" height="32" fill="#cdd3db"/>
<rect x="894" y="1336" width="2" height="32" fill="#cdd3db"/>
<rect x="962" y="1336" width="2" height="32" fill="#cdd3db"/>
<rect x="1018" y="1336" width="2" height="32" fill="#cdd3db"/>
<rect x="1074" y="1336" width="2" height="32" fill="#cdd3db"/>
<rect x="1154" y="1336" width="2" height="32" fill="#cdd3db"/>
<rect x="1154" y="1366" width="312" height="2" fill="#cdd3db"/>
<path fill="#ffffff" shape-rendering="crispEdges" d="M60 1340h2v2h-2zM68 1340h2v2h-2zM84 1340h2v2h-2zM90 1340h10v2h-10zM60 1342h2v2h-2zM68 1342h2v2h-2zM74 1342h4v2h-4zM84 1342h2v2h-2zM56 1344h10v2h-10zM68 1344h6v2h-6zM80 1344h10v2h-10zM60 1346h2v2h-2zM68 1346h2v2h-2zM76 1346h2v2h-2zM84 1346h2v2h-2zM88 1346h14v2h-14zM60 1348h2v2h-2zM64 1348h2v2h-2zM68 1348h10v2h-10zM84 1348h2v2h-2zM94 1348h2v2h-2zM60 1350h4v2h-4zM82 1350h6v2h-6zM94 1350h2v2h-2zM58 1352h4v2h-4zM68 1352h10v2h-10zM82 1352h4v2h-4zM90 1352h2v2h-2zM94 1352h2v2h-2zM98 1352h2v2h-2zM56 1354h2v2h-2zM60 1354h2v2h-2zM68 1354h2v2h-2zM76 1354h2v2h-2zM80 1354h2v2h-2zM84 1354h2v2h-2zM90 1354h2v2h-2zM94 1354h2v2h-2zM100 1354h2v2h-2zM60 1356h2v2h-2zM68 1356h10v2h-10zM84 1356h2v2h-2zM88 1356h2v2h-2zM94 1356h2v2h-2zM100 1356h2v2h-2zM60 1358h2v2h-2zM68 1358h2v2h-2zM76 1358h2v2h-2zM84 1358h2v2h-2zM94 1358h2v2h-2zM56 1360h6v2h-6zM68 1360h10v2h-10zM84 1360h2v2h-2zM92 1360h4v2h-4z"/>
<path fill="#1e2a3a" shape-rendering="crispEdges" d="M140 1340h2v2h-2zM148 1340h2v2h-2zM152 1340h2v2h-2zM164 1340h2v2h-2zM176 1340h4v2h-4zM140 1342h2v2h-2zM144 1342h14v2h-14zM164 1342h2v2h-2zM170 1342h6v2h-6zM136 1344h8v2h-8zM148 1344h2v2h-2zM152 1344h2v2h-2zM160 1344h12v2h-12zM140 1346h2v2h-2zM146 1346h10v2h-10zM164 1346h2v2h-2zM170 1346h2v2h-2zM140 1348h4v2h-4zM146 1348h2v2h-2zM154 1348h2v2h-2zM164 1348h2v2h-2zM170 1348h10v2h-10zM138 1350h4v2h-4zM144 1350h12v2h-12zM162 1350h6v2h-6zM170 1350h2v2h-2zM178 1350h2v2h-2zM138 1352h4v2h-4zM146 1352h2v2h-2zM154 1352h2v2h-2zM162 1352h4v2h-4zM168 1352h6v2h-6zM178 1352h2v2h-2zM136 1354h2v2h-2zM140 1354h2v2h-2zM144 1354h14v2h-14zM160 1354h2v2h-2zM164 1354h2v2h-2zM170 1354h2v2h-2zM174 1354h4v2h-4zM140 1356h2v2h-2zM150 1356h2v2h-2zM164 1356h2v2h-2zM168 1356h2v2h-2zM176 1356h2v2h-2zM140 1358h2v2h-2zM148 1358h2v2h-2zM152 1358h2v2h-2zM164 1358h2v2h-2zM168 1358h2v2h-2zM174 1358h2v2h-2zM178 1358h2v2h-2zM140 1360h2v2h-2zM144 1360h4v2h-4zM154 1360h4v2h-4zM164 1360h4v2h-4zM170 1360h4v2h-4zM180 1360h2v2h-2z"/>
<text x="343.0" y="1359.5" fill="#1e2a3a" font-size="20" text-anchor="middle" font-weight="normal" font-family='"Liberation Mono", monospace' transform="translate(0 1359.5) scale(1 1.23) translate(0 -1359.5)">MA</text>
<text x="411.0" y="1359.5" fill="#1e2a3a" font-size="20" text-anchor="middle" font-weight="normal" font-family='"Liberation Mono", monospace' transform="translate(0 1359.5) scale(1 1.23) translate(0 -1359.5)">MACD</text>
<text x="491.0" y="1359.5" fill="#1e2a3a" font-size="20" text-anchor="middle" font-weight="normal" font-family='"Liberation Mono", monospace' transform="translate(0 1359.5) scale(1 1.23) translate(0 -1359.5)">BOLL</text>
<text x="565.0" y="1359.5" fill="#1e2a3a" font-size="20" text-anchor="middle" font-weight="normal" font-family='"Liberation Mono", monospace' transform="translate(0 1359.5) scale(1 1.23) translate(0 -1359.5)">VOL</text>
<text x="639.0" y="1359.5" fill="#1e2a3a" font-size="20" text-anchor="middle" font-weight="normal" font-family='"Liberation Mono", monospace' transform="translate(0 1359.5) scale(1 1.23) translate(0 -1359.5)">BIAS</text>
<text x="713.0" y="1359.5" fill="#1e2a3a" font-size="20" text-anchor="middle" font-weight="normal" font-family='"Liberation Mono", monospace' transform="translate(0 1359.5) scale(1 1.23) translate(0 -1359.5)">CCI</text>
<text x="781.0" y="1359.5" fill="#1e2a3a" font-size="20" text-anchor="middle" font-weight="normal" font-family='"Liberation Mono", monospace' transform="translate(0 1359.5) scale(1 1.23) translate(0 -1359.5)">KDJ</text>
<text x="855.0" y="1359.5" fill="#1e2a3a" font-size="20" text-anchor="middle" font-weight="normal" font-family='"Liberation Mono", monospace' transform="translate(0 1359.5) scale(1 1.23) translate(0 -1359.5)">LW&amp;</text>
<text x="929.0" y="1359.5" fill="#1e2a3a" font-size="20" text-anchor="middle" font-weight="normal" font-family='"Liberation Mono", monospace' transform="translate(0 1359.5) scale(1 1.23) translate(0 -1359.5)">RSI</text>
<text x="991.0" y="1359.5" fill="#1e2a3a" font-size="20" text-anchor="middle" font-weight="normal" font-family='"Liberation Mono", monospace' transform="translate(0 1359.5) scale(1 1.23) translate(0 -1359.5)">CR</text>
<text x="1047.0" y="1359.5" fill="#1e2a3a" font-size="20" text-anchor="middle" font-weight="normal" font-family='"Liberation Mono", monospace' transform="translate(0 1359.5) scale(1 1.23) translate(0 -1359.5)">&gt;&gt;</text>
<path fill="#1e2a3a" shape-rendering="crispEdges" d="M1094 1340h2v2h-2zM1102 1340h8v2h-8zM1118 1340h18v2h-18zM1096 1342h2v2h-2zM1102 1342h2v2h-2zM1108 1342h2v2h-2zM1118 1342h2v2h-2zM1124 1342h2v2h-2zM1128 1342h2v2h-2zM1134 1342h2v2h-2zM1102 1344h2v2h-2zM1108 1344h2v2h-2zM1118 1344h18v2h-18zM1100 1346h2v2h-2zM1108 1346h6v2h-6zM1126 1346h2v2h-2zM1092 1348h6v2h-6zM1116 1348h22v2h-22zM1096 1350h2v2h-2zM1100 1350h12v2h-12zM1120 1350h2v2h-2zM1132 1350h2v2h-2zM1096 1352h2v2h-2zM1102 1352h2v2h-2zM1110 1352h2v2h-2zM1120 1352h14v2h-14zM1096 1354h2v2h-2zM1104 1354h2v2h-2zM1108 1354h2v2h-2zM1120 1354h2v2h-2zM1132 1354h2v2h-2zM1096 1356h4v2h-4zM1106 1356h2v2h-2zM1120 1356h14v2h-14zM1096 1358h2v2h-2zM1104 1358h2v2h-2zM1108 1358h2v2h-2zM1120 1358h2v2h-2zM1132 1358h2v2h-2zM1098 1360h6v2h-6zM1110 1360h4v2h-4zM1116 1360h22v2h-22z"/>
<text x="234" y="1359.5" fill="#ff7f00" font-size="20" text-anchor="middle" font-weight="normal" font-family='"Liberation Mono", monospace' transform="translate(0 1359.5) scale(1 1.23) translate(0 -1359.5)">VIP</text>
<path fill="#ff7f00" shape-rendering="crispEdges" d="M256 1340h2v2h-2zM264 1340h2v2h-2zM280 1340h2v2h-2zM286 1340h10v2h-10zM256 1342h2v2h-2zM264 1342h2v2h-2zM270 1342h4v2h-4zM280 1342h2v2h-2zM252 1344h10v2h-10zM264 1344h6v2h-6zM276 1344h10v2h-10zM256 1346h2v2h-2zM264 1346h2v2h-2zM272 1346h2v2h-2zM280 1346h2v2h-2zM284 1346h14v2h-14zM256 1348h2v2h-2zM260 1348h2v2h-2zM264 1348h10v2h-10zM280 1348h2v2h-2zM290 1348h2v2h-2zM256 1350h4v2h-4zM278 1350h6v2h-6zM290 1350h2v2h-2zM254 1352h4v2h-4zM264 1352h10v2h-10zM278 1352h4v2h-4zM286 1352h2v2h-2zM290 1352h2v2h-2zM294 1352h2v2h-2zM252 1354h2v2h-2zM256 1354h2v2h-2zM264 1354h2v2h-2zM272 1354h2v2h-2zM276 1354h2v2h-2zM280 1354h2v2h-2zM286 1354h2v2h-2zM290 1354h2v2h-2zM296 1354h2v2h-2zM256 1356h2v2h-2zM264 1356h10v2h-10zM280 1356h2v2h-2zM284 1356h2v2h-2zM290 1356h2v2h-2zM296 1356h2v2h-2zM256 1358h2v2h-2zM264 1358h2v2h-2zM272 1358h2v2h-2zM280 1358h2v2h-2zM290 1358h2v2h-2zM252 1360h6v2h-6zM264 1360h10v2h-10zM280 1360h2v2h-2zM288 1360h4v2h-4z"/>
<text x="1338.5" y="1343" fill="#b79e88" font-size="30" text-anchor="start" font-weight="normal" font-family='"Liberation Sans", sans-serif' letter-spacing="2.5" opacity="0.9">FX678</text>
<text x="1337.5" y="1342" fill="#ddeeff" font-size="30" text-anchor="start" font-weight="normal" font-family='"Liberation Sans", sans-serif' letter-spacing="2.5">FX678</text>
</svg>
</body></html>
